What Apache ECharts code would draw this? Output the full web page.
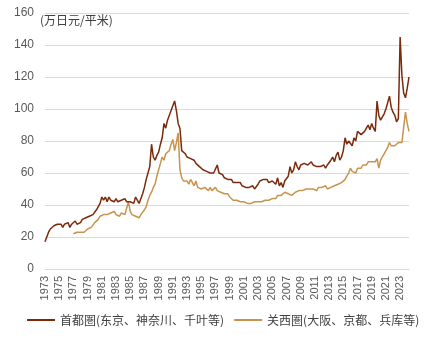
<!DOCTYPE html>
<html>
<head>
<meta charset="utf-8">
<script src="https://cdn.jsdelivr.net/npm/echarts@6/dist/echarts.min.js"></script>
<style>
  html, body { margin: 0; padding: 0; background: #ffffff; }
  #chart { width: 426px; height: 338px; }
</style>
</head>
<body>
<div id="chart"></div>
<script>
// Quarterly condominium prices, 10k yen per square metre
const firstYear = 1973;
const lastYear = 2024;
const lastQuarter = 2; // data runs to 2024 Q2

const unitLabel = '(万日元/平米)';
const seriesNames = ['首都圏(东京、神奈川、千叶等)', '关西圏(大阪、京都、兵库等)'];
const yTicks = [0, 20, 40, 60, 80, 100, 120, 140, 160];

// 首都圏, 1973 Q1 .. 2024 Q2
const capitalArea = [
  17, 20, 23, 25,   26, 27, 26, 28,   27, 28, 26, 28,   27, 29, 26, 28,
  27, 30, 28, 29,   29, 31, 30, 32,   31, 33, 32, 34,   34, 37, 39, 41,
  45, 43, 45, 42,   45, 43, 44, 42,   44, 42, 43, 43,   42, 44, 42, 43,
  42, 43, 41, 45,   43, 41, 42, 47,   51, 56, 60, 64,   78, 70, 68, 71,
  73, 78, 82, 91,   88, 93, 96, 99,   102, 105, 99, 91, 88, 74, 73, 72,
  70, 71, 69, 68,   68, 66, 67, 64,   63, 62, 63, 61,   62, 60, 61, 60,
  61, 65, 60, 59,   59, 57, 58, 56,   57, 56, 54, 55,   54, 53, 54, 52,
  53, 51, 52, 51,   51, 52, 50, 51,   53, 55, 54, 56,   55, 56, 54, 55,
  55, 56, 53, 57,   52, 54, 51, 55,   55, 58, 64, 60,   62, 67, 64, 62,
  65, 64, 66, 67,   65, 66, 67, 65,   66, 64, 65, 64,   64, 65, 63, 65,
  66, 68, 70, 67,   71, 73, 68, 70,   74, 82, 78, 80,   79, 77, 82, 80,
  86, 87, 84, 85,   86, 88, 90, 87,   91, 88, 86, 105, 96, 93, 92, 97,
  100, 104, 108, 101, 98, 96, 92, 94, 145, 121, 110, 107, 113, 120
];

// 关西圏, 1977 Q1 .. 2024 Q2 (no records before 1977)
const kansaiStartYear = 1977;
const kansaiArea = [
  22, 22, 23, 22,   23, 24, 23, 24,   25, 24, 26, 27,   29, 30, 31, 33,
  32, 34, 33, 34,   33, 35, 34, 36,   34, 35, 33, 35,   36, 34, 35, 42,
  36, 34, 33, 33,   33, 32, 34, 35,   37, 39, 43, 46,   48, 51, 53, 58,
  62, 66, 70, 68,   72, 71, 74, 78,   81, 74, 79, 85,   62, 57, 55, 54,
  55, 53, 56, 54,   52, 55, 51, 50,   50, 49, 51, 50,   49, 51, 49, 50,
  51, 49, 48, 48,   48, 47, 46, 47,   45, 44, 43, 43,   43, 42, 42, 41,
  42, 41, 41, 42,   41, 42, 42, 41,   42, 43, 42, 43,   43, 44, 43, 44,
  44, 45, 44, 46,   45, 46, 47, 48,   49, 47, 48, 46,   47, 48, 47, 49,
  48, 49, 48, 50,   49, 50, 49, 50,   50, 49, 51, 50,   51, 50, 52, 50,
  49, 51, 50, 52,   51, 53, 52, 54,   55, 56, 58, 60,   63, 61, 62, 60,
  63, 64, 63, 65,   66, 65, 67, 66,   67, 68, 67, 69,   63, 68, 70, 72,
  74, 76, 79, 77,   78, 77, 78, 79,   78, 79, 80, 98,   91, 86
];

// quarter categories, e.g. "1973Q1"
const categories = [];
for (let y = firstYear; y <= lastYear; y++) {
  for (let q = 1; q <= 4; q++) {
    if (y === lastYear && q > lastQuarter) break;
    categories.push(y + 'Q' + q);
  }
}
const kansaiOffset = (kansaiStartYear - firstYear) * 4;
const kansaiSeries = categories.map((c, i) =>
  i < kansaiOffset ? null : kansaiArea[i - kansaiOffset]);

const cjkFont = '"Noto Sans CJK SC", "Noto Sans", sans-serif';
const numFont = '"Liberation Sans", "DejaVu Sans", sans-serif';

const chart = echarts.init(document.getElementById('chart'), null, { renderer: 'canvas' });
chart.setOption({
  animation: false,
  backgroundColor: '#ffffff',
  grid: { left: 45, right: 17, top: 13, bottom: 69, containLabel: false },
  graphic: [{
    type: 'text',
    left: 40,
    top: 14,
    z: 10,
    style: { text: unitLabel, fill: '#404040', font: '12px ' + cjkFont }
  }],
  legend: {
    left: 27,
    top: 314,
    width: 399,
    padding: 0,
    itemWidth: 28,
    itemHeight: 2,
    itemGap: 10,
    icon: 'rect',
    textStyle: { color: '#404040', fontSize: 12, fontFamily: cjkFont },
    data: seriesNames
  },
  xAxis: {
    type: 'category',
    data: categories,
    boundaryGap: false,
    axisLine: { show: true, lineStyle: { color: '#d9d9d9', width: 1 } },
    axisTick: { show: false },
    axisLabel: {
      rotate: 90,
      margin: 7,
      color: '#595959',
      fontSize: 11,
      fontFamily: numFont,
      interval: (idx) => idx % 8 === 0,
      formatter: (v) => v.slice(0, 4)
    },
    splitLine: { show: false }
  },
  yAxis: {
    type: 'value',
    min: yTicks[0],
    max: yTicks[yTicks.length - 1],
    interval: yTicks[1] - yTicks[0],
    axisLine: { show: false },
    axisTick: { show: false },
    axisLabel: { color: '#595959', fontSize: 12, fontFamily: numFont, margin: 11 },
    splitLine: { lineStyle: { color: '#d9d9d9', width: 1 } }
  },
  series: [
    {
      name: seriesNames[0],
      type: 'line',
      data: capitalArea,
      symbol: 'none',
      lineStyle: { color: '#7b2a0c', width: 1.5 },
      itemStyle: { color: '#7b2a0c' },
      z: 3
    },
    {
      name: seriesNames[1],
      type: 'line',
      data: kansaiSeries,
      symbol: 'none',
      connectNulls: false,
      lineStyle: { color: '#c8934c', width: 1.5 },
      itemStyle: { color: '#c8934c' },
      z: 2
    }
  ]
});
</script>
</body>
</html>
